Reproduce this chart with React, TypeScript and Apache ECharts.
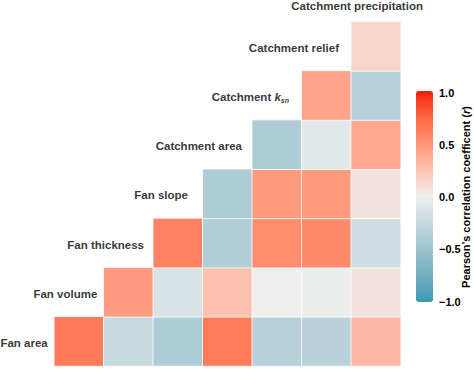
import React, { useEffect, useRef } from "react";
import * as echarts from "echarts";

// Variables in matrix order (bottom row / first column = Fan area)
const variables = [
  "Fan area",
  "Fan volume",
  "Fan thickness",
  "Fan slope",
  "Catchment area",
  "Catchment ksn",
  "Catchment relief",
  "Catchment precipitation",
];
const variableLabels = [
  "Fan area",
  "Fan volume",
  "Fan thickness",
  "Fan slope",
  "Catchment area",
  "Catchment {k|k}{s|sn}",
  "Catchment relief",
  "Catchment precipitation",
];

// Pearson r of each variable with every later variable in the list
const fanAreaR = [0.65, -0.25, -0.4, 0.64, -0.35, -0.32, 0.31];
const fanVolumeR = [0.47, -0.13, 0.27, 0.0, -0.01, 0.06];
const fanThicknessR = [0.6, -0.38, 0.55, 0.56, -0.2];
const fanSlopeR = [-0.4, 0.48, 0.48, 0.06];
const catchmentAreaR = [-0.4, -0.07, 0.4];
const catchmentKsnR = [0.42, -0.35];
const catchmentReliefR = [0.15];

const colorbarTicks = [-1, -0.5, 0, 0.5, 1];
const colorbarTickLabels = ["\u22121.0", "\u22120.5", "0.0", "0.5", "1.0"];

const LOW = "#3B9AB2";
const MID = "#EEEEEE";
const HIGH = "#F21A00";

// label placement style (right end relative to diagonal cell centre, px)
const LABEL_NUDGE = [18.2, 18.3, 15.5, 10, 14.5, 12, 12.5, 47];

// --- Lab interpolation (like ggplot2's gradient2) ---
function hexToRgb(h: string) {
  const n = parseInt(h.slice(1), 16);
  return [(n >> 16) & 255, (n >> 8) & 255, n & 255];
}
function toLin(c: number) {
  c /= 255;
  return c <= 0.04045 ? c / 12.92 : Math.pow((c + 0.055) / 1.055, 2.4);
}
function fromLin(c: number) {
  const v = c <= 0.0031308 ? 12.92 * c : 1.055 * Math.pow(c, 1 / 2.4) - 0.055;
  return Math.max(0, Math.min(255, Math.round(v * 255)));
}
const WX = 0.95047, WY = 1.0, WZ = 1.08883;
function f(t: number) {
  return t > 216 / 24389 ? Math.cbrt(t) : (t * 24389 / 27 + 16) / 116;
}
function finv(t: number) {
  return t * t * t > 216 / 24389 ? t * t * t : (116 * t - 16) / (24389 / 27);
}
function hexToLab(h: string) {
  const [r, g, b] = hexToRgb(h).map(toLin);
  const X = 0.4124 * r + 0.3576 * g + 0.1805 * b;
  const Y = 0.2126 * r + 0.7152 * g + 0.0722 * b;
  const Z = 0.0193 * r + 0.1192 * g + 0.9505 * b;
  const fx = f(X / WX), fy = f(Y / WY), fz = f(Z / WZ);
  return [116 * fy - 16, 500 * (fx - fy), 200 * (fy - fz)];
}
function labToHex(L: number, a: number, bb: number) {
  const fy = (L + 16) / 116;
  const fx = fy + a / 500;
  const fz = fy - bb / 200;
  const X = finv(fx) * WX, Y = finv(fy) * WY, Z = finv(fz) * WZ;
  const r = 3.2406 * X - 1.5372 * Y - 0.4986 * Z;
  const g = -0.9689 * X + 1.8758 * Y + 0.0415 * Z;
  const b = 0.0557 * X - 0.204 * Y + 1.057 * Z;
  const hx = (v: number) => fromLin(Math.max(0, v)).toString(16).padStart(2, "0");
  return "#" + hx(r) + hx(g) + hx(b);
}
function buildScale() {
  const lo = hexToLab(LOW), mi = hexToLab(MID), hi = hexToLab(HIGH);
  const out: string[] = [];
  const N = 40;
  for (let i = 0; i <= N; i++) {
    const v = -1 + (2 * i) / N;
    const tgt = v < 0 ? lo : hi;
    const t = Math.abs(v);
    out.push(
      labToHex(
        mi[0] + (tgt[0] - mi[0]) * t,
        mi[1] + (tgt[1] - mi[1]) * t,
        mi[2] + (tgt[2] - mi[2]) * t
      )
    );
  }
  return out;
}

const FONT = "Liberation Sans, Arial, sans-serif";
const FS = 11.5;

export default function App() {
  const ref = useRef<HTMLDivElement>(null);
  useEffect(() => {
    if (!ref.current) return;
    const chart = echarts.init(ref.current, undefined, { renderer: "svg" });
    const rows = [
      fanAreaR,
      fanVolumeR,
      fanThicknessR,
      fanSlopeR,
      catchmentAreaR,
      catchmentKsnR,
      catchmentReliefR,
    ];
    const cells: number[][] = [];
    rows.forEach((row, r) => {
      row.forEach((v, j) => cells.push([r + 1 + j, r, v]));
    });
    const last = variables.length - 1;
    const labelData = variables.map((_, k) => ({
      value: [k, k],
      label: { offset: [LABEL_NUDGE[k] + 5, k === last ? 8.6 : 1.5] },
    }));
    chart.setOption({
      animation: false,
      backgroundColor: "#ffffff",
      grid: [
        { left: 4.8, top: -27.5, width: 395.9, height: 393.5, outerBoundsMode: "none" },
        { left: 416, top: 92.5, width: 17, height: 209, outerBoundsMode: "none" },
      ],
      xAxis: [
        { type: "category", data: variables, show: false, gridIndex: 0 },
        { type: "value", gridIndex: 1, show: false, min: 0, max: 1 },
      ],
      yAxis: [
        { type: "category", data: variables, show: false, gridIndex: 0 },
        {
          type: "value",
          gridIndex: 1,
          min: -1,
          max: 1,
          interval: 0.5,
          position: "right",
          z: 10,
          axisLine: { show: false },
          axisTick: { show: true, inside: true, length: 3.4, lineStyle: { color: "#ffffff", width: 1 } },
          splitLine: { show: false },
          axisLabel: {
            margin: 6,
            fontFamily: FONT,
            fontWeight: "bold",
            fontSize: 11,
            color: "#000",
            formatter: (v: number) => {
              const i = colorbarTicks.findIndex((t) => Math.abs(t - v) < 1e-6);
              return i >= 0 ? colorbarTickLabels[i] : "";
            },
          },
          name: "Pearson\u2019s correlation coefficent ({i|r})",
          nameLocation: "middle",
          nameRotate: 90,
          nameGap: 27,
          nameMoveOverlap: false,
          nameTextStyle: {
            fontFamily: FONT,
            fontWeight: "bold",
            fontSize: 11,
            color: "#000",
            rich: {
              i: { fontFamily: FONT, fontWeight: "bold", fontStyle: "italic", fontSize: 11, color: "#000" },
            },
          },
        },
      ],
      visualMap: {
        type: "continuous",
        min: -1,
        max: 1,
        seriesIndex: 0,
        calculable: false,
        hoverLink: false,
        orient: "vertical",
        left: 416,
        top: 91,
        itemWidth: 17,
        itemHeight: 211,
        padding: 0,
        inRange: { color: buildScale() },
      },
      series: [
        {
          type: "heatmap",
          xAxisIndex: 0,
          yAxisIndex: 0,
          data: cells,
          itemStyle: { borderColor: "#ffffff", borderWidth: 0.8 },
          emphasis: { disabled: true },
          silent: true,
        },
        {
          type: "scatter",
          xAxisIndex: 0,
          yAxisIndex: 0,
          symbolSize: 0,
          silent: true,
          clip: false,
          data: labelData,
          label: {
            show: true,
            position: "left",
            distance: 5,
            formatter: (p: any) => variableLabels[p.dataIndex],
            fontFamily: FONT,
            fontWeight: "bold",
            fontSize: FS,
            color: "#000",
            rich: {
              k: { fontFamily: FONT, fontWeight: "bold", fontStyle: "italic", fontSize: FS, color: "#000", lineHeight: 14 },
              s: { fontFamily: FONT, fontWeight: "bold", fontStyle: "italic", fontSize: 7, color: "#000", lineHeight: 7, verticalAlign: "bottom" },
            },
          },
        },
      ],
    });
    return () => chart.dispose();
  }, []);
  return (
    <div
      ref={ref}
      style={{ position: "absolute", left: 0, top: 0, width: 474, height: 369 }}
    />
  );
}
